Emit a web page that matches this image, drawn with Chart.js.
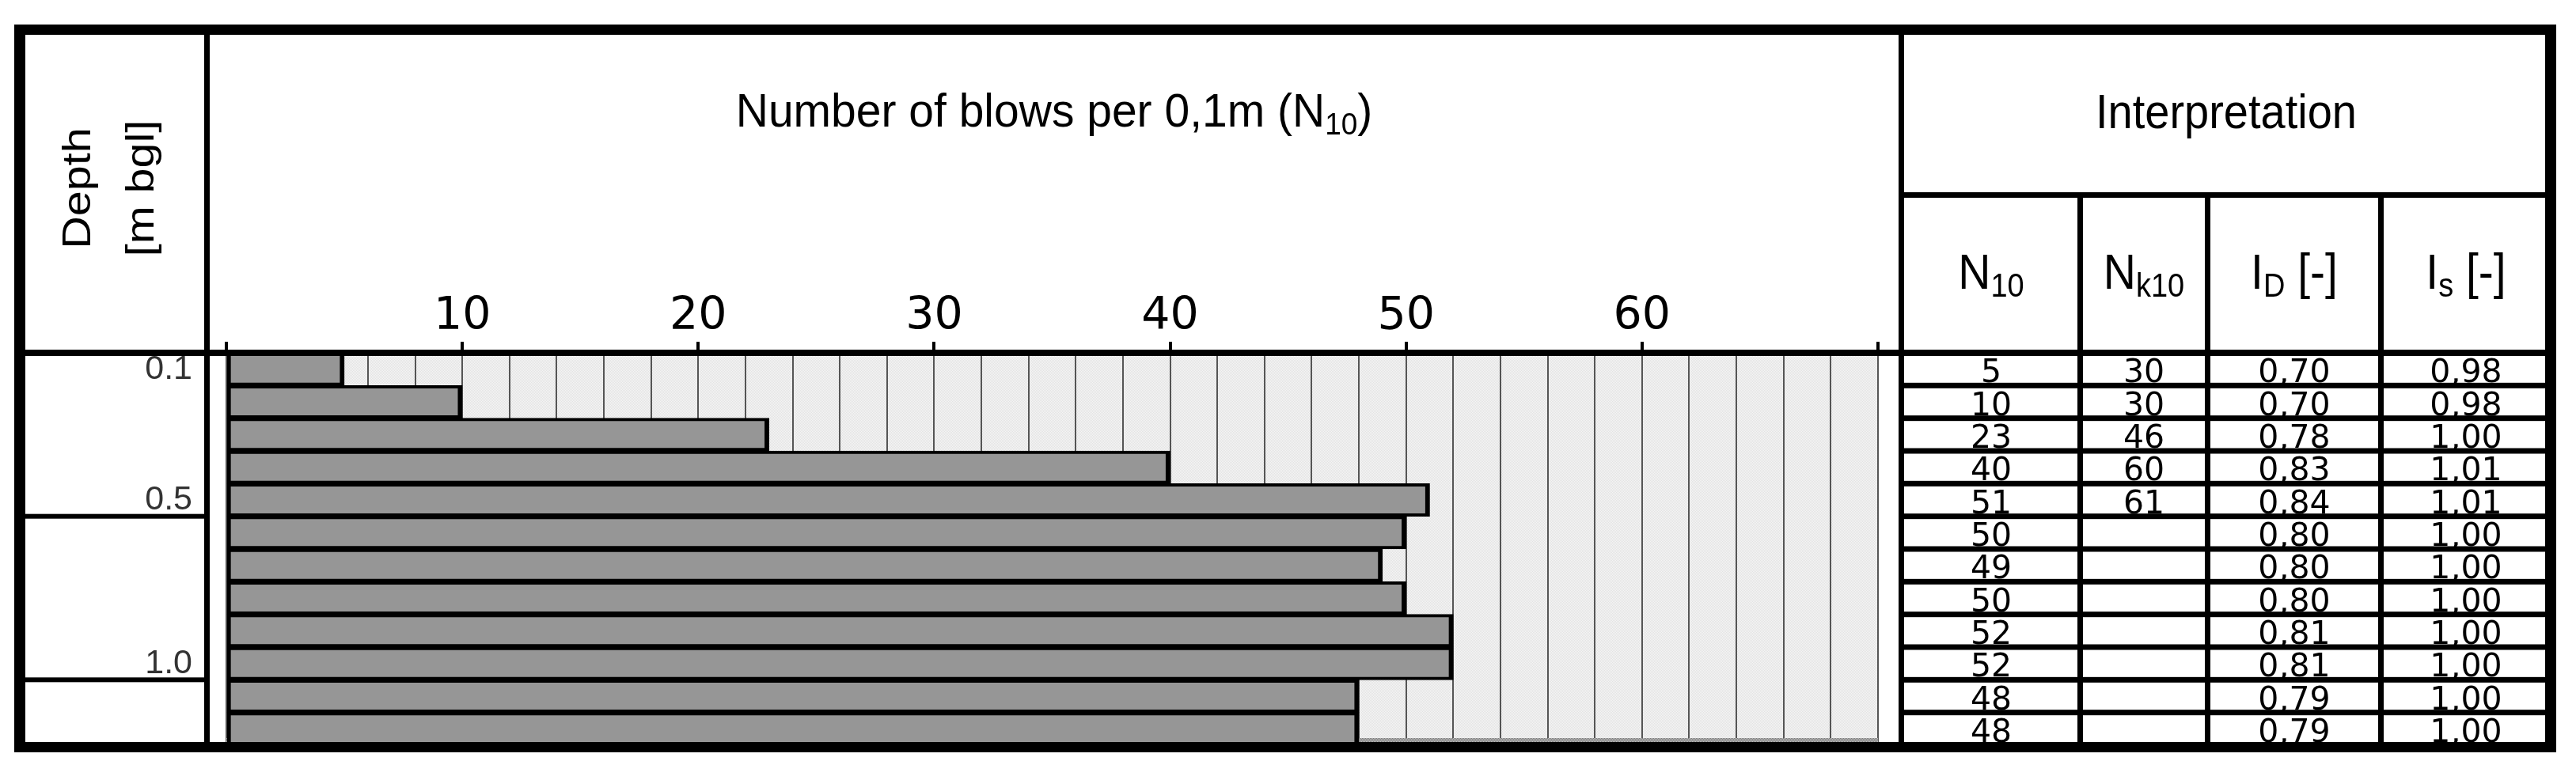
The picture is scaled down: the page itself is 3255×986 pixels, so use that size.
<!DOCTYPE html>
<html><head><meta charset="utf-8">
<script src="https://cdn.jsdelivr.net/npm/chart.js@4.4.0/dist/chart.umd.min.js"></script>
<style>html,body{margin:0;padding:0;background:#fff;} canvas{display:block;}</style>
</head><body>
<canvas id="c" width="3255" height="986"></canvas>
<script>
// ---- data ----
const depthCategories = ['0.1','0.2','0.3','0.4','0.5','0.6','0.7','0.8','0.9','1.0','1.1','1.2'];
const depthShown = ['0.1','0.5','1.0'];
const n10 = [5,10,23,40,51,50,49,50,52,52,48,48];
const nk10 = ['30','30','46','60','61','','','','','','',''];
const idValues = ['0,70','0,70','0,78','0,83','0,84','0,80','0,80','0,80','0,81','0,81','0,79','0,79'];
const isValues = ['0,98','0,98','1,00','1,01','1,01','1,00','1,00','1,00','1,00','1,00','1,00','1,00'];
const xTickLabels = [10,20,30,40,50,60];
const xMin = 0, xMax = 70, gridStep = 2;
const titleMain = 'Number of blows per 0,1m (N', titleSub = '10', titleTail = ')';
const depthTitle = ['Depth', '[m bgl]'];
const tableTitle = 'Interpretation';
const colHeaders = [['N','10',''],['N','k10',''],['I','D',' [-]'],['I','s',' [-]']];

const SANS = '"Liberation Sans", Arial, sans-serif';
const VERD = '"DejaVu Sans", Verdana, sans-serif';

function makePattern(ctx, c1, c2) {
  const p = document.createElement('canvas'); p.width = 2; p.height = 2;
  const g = p.getContext('2d');
  g.fillStyle = c1; g.fillRect(0,0,2,2);
  g.fillStyle = c2; g.fillRect(0,0,1,1); g.fillRect(1,1,1,1);
  return ctx.createPattern(p, 'repeat');
}

// draw "main + subscript + tail" centred at cx, with vertical stretch sy about the baseline
function drawSubText(ctx, parts, cx, baseline, size, subSize, subDrop, sy) {
  const [a, s, t] = parts;
  ctx.save();
  ctx.translate(0, baseline); ctx.scale(1, sy);
  ctx.font = size + 'px ' + SANS;
  const wa = ctx.measureText(a).width, wt = ctx.measureText(t).width;
  ctx.font = subSize + 'px ' + SANS;
  const ws = ctx.measureText(s).width;
  let x = cx - (wa + ws + wt) / 2;
  ctx.textAlign = 'left'; ctx.textBaseline = 'alphabetic';
  ctx.font = size + 'px ' + SANS; ctx.fillText(a, x, 0); x += wa;
  ctx.font = subSize + 'px ' + SANS; ctx.fillText(s, x, subDrop / sy); x += ws;
  ctx.font = size + 'px ' + SANS; ctx.fillText(t, x, 0);
  ctx.restore();
}

const framePlugin = {
  id: 'frame',
  beforeDraw(chart) {
    const {ctx, chartArea: a} = chart;
    ctx.save();
    ctx.fillStyle = '#fff'; ctx.fillRect(0, 0, chart.width, chart.height);
    ctx.fillStyle = makePattern(ctx, '#f5f5f5', '#e3e3e3');
    ctx.fillRect(a.left, a.top, a.right - a.left, a.bottom - a.top);
    ctx.restore();
  },
  beforeDatasetsDraw(chart) {
    const {ctx, chartArea: a} = chart;
    ctx.save();
    ctx.fillStyle = makePattern(ctx, '#bdbdbd', '#7a7a7a');
    ctx.fillRect(a.left, a.bottom - 9, a.right - a.left, 9);
    ctx.restore();
  },
  afterDraw(chart) {
    const {ctx} = chart;
    const ys = chart.scales.y;
    const rowH = ys.getPixelForValue(1) - ys.getPixelForValue(0);
    const bnd = i => ys.getPixelForValue(i) - rowH / 2;
    ctx.save();
    ctx.fillStyle = '#000';
    const rect = (x1, y1, x2, y2) => ctx.fillRect(x1, y1, x2 - x1, y2 - y1);
    // outer frame
    rect(18, 31, 3230, 44);
    rect(18, 938, 3230, 951);
    rect(18, 31, 32, 951);
    rect(3216, 31, 3230, 951);
    // header separator
    rect(18, 442, 3230, 450);
    // depth column divider
    rect(258, 31, 265, 951);
    // depth row lines
    [5, 10].forEach(i => { const y = bnd(i); rect(32, y - 3, 258, y + 3); });
    // chart/table divider
    rect(2399, 31, 2406, 951);
    // interpretation line
    rect(2399, 243, 3230, 250);
    // column lines
    [2625, 2786, 3005].forEach(x => rect(x, 243, x + 7, 951));
    // table row lines
    for (let i = 1; i < n10.length; i++) { const y = bnd(i); rect(2399, y - 3.5, 3230, y + 3.5); }

    // texts
    ctx.fillStyle = '#000';
    drawSubText(ctx, [titleMain, titleSub, titleTail], 1332, 160, 57, 37, 10, 1.05);
    drawSubText(ctx, [tableTitle, '', ''], 2813, 162, 56, 37, 0, 1.1);
    const colCenters = [2516, 2709, 2899, 3116];
    colHeaders.forEach((h, i) => drawSubText(ctx, h, colCenters[i], 365, 57, 38, 10, 1.1));
    // depth title rotated (stretched along its length)
    ctx.font = '50px ' + SANS; ctx.textAlign = 'center'; ctx.textBaseline = 'alphabetic';
    [[114, depthTitle[0]], [194, depthTitle[1]]].forEach(([x, t]) => {
      ctx.save(); ctx.translate(x, 238); ctx.rotate(-Math.PI / 2); ctx.scale(1.15, 1);
      ctx.fillText(t, 0, 0); ctx.restore();
    });
    // table values
    ctx.font = '41px ' + VERD;
    ctx.textAlign = 'center'; ctx.textBaseline = 'alphabetic';
    for (let i = 0; i < n10.length; i++) {
      const yb = Math.min(bnd(i + 1) - 4, 938);
      ctx.fillText(String(n10[i]), colCenters[0], yb);
      if (nk10[i]) ctx.fillText(nk10[i], colCenters[1], yb);
      ctx.fillText(idValues[i], colCenters[2], yb);
      ctx.fillText(isValues[i], colCenters[3], yb);
    }
    ctx.restore();
  }
};

new Chart(document.getElementById('c'), {
  type: 'bar',
  data: {
    labels: depthCategories,
    datasets: [{
      data: n10,
      backgroundColor: '#969696',
      borderColor: '#000',
      borderWidth: {top: 4, bottom: 4, left: 5, right: 6},
      borderSkipped: false,
      barPercentage: 1,
      categoryPercentage: 1
    }]
  },
  options: {
    indexAxis: 'y',
    responsive: false,
    devicePixelRatio: 1,
    animation: false,
    layout: {padding: {left: 0, right: 3255 - 2373, top: 0, bottom: 986 - 942}},
    plugins: {legend: {display: false}, tooltip: {enabled: false}, title: {display: false}},
    scales: {
      x: {
        type: 'linear', position: 'top', min: xMin, max: xMax,
        afterFit: s => { s.height = 446; s.paddingLeft = 0; s.paddingRight = 0; },
        border: {display: true, color: '#000', width: 8},
        grid: {
          color: '#555', lineWidth: 2, drawTicks: true, tickLength: 14,
          tickColor: c => (c.tick && c.tick.value % 10 === 0) ? '#000' : 'rgba(0,0,0,0)',
          tickWidth: 4
        },
        ticks: {
          stepSize: gridStep, autoSkip: false, maxRotation: 0, padding: 2,
          color: '#000', font: {family: 'DejaVu Sans', size: 57, lineHeight: 1},
          callback: v => xTickLabels.includes(v) ? String(v) : ''
        }
      },
      y: {
        position: 'left',
        afterFit: s => { s.width = 286; s.paddingTop = 0; s.paddingBottom = 0; },
        border: {display: false},
        grid: {display: false, drawTicks: false},
        ticks: {
          autoSkip: false, padding: 43, color: '#333',
          font: {family: 'Liberation Sans', size: 43},
          callback: (v, i) => depthShown.includes(depthCategories[i]) ? depthCategories[i] : ''
        }
      }
    }
  },
  plugins: [framePlugin]
});
</script>
</body></html>
